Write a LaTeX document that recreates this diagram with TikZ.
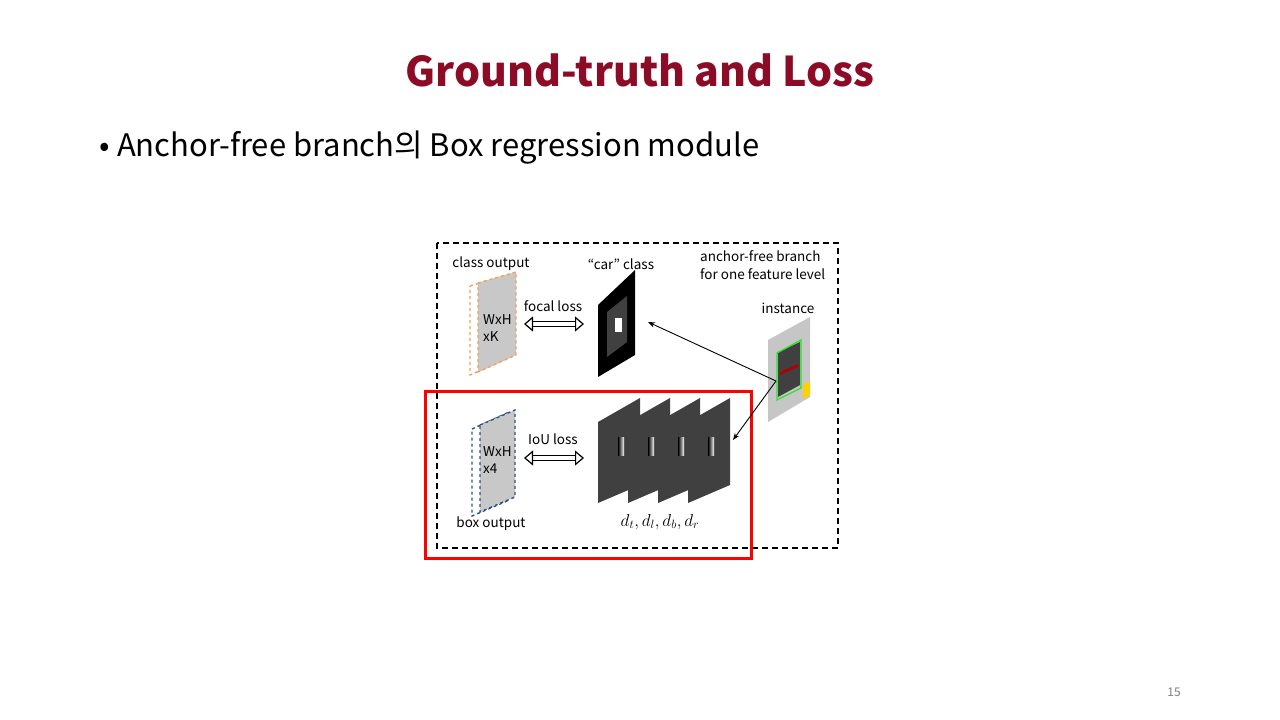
\documentclass[tikz,border=0pt]{standalone}
\usepackage{fontspec}
\setmainfont{Noto Sans CJK KR}
\usetikzlibrary{arrows.meta}
\definecolor{titlered}{RGB}{140,12,40}
\definecolor{slabgray}{RGB}{200,200,200}
\definecolor{darkpanel}{RGB}{64,64,64}
\definecolor{orangedash}{RGB}{240,160,90}
\definecolor{bluedash}{RGB}{50,80,130}
\definecolor{boxgreen}{RGB}{40,230,40}
\tikzset{
  lbl/.style={font=\fontsize{13.5}{15}\selectfont, inner sep=0pt},
  dblarrow/.style={double, double distance=4pt, line width=1.2pt, {Triangle[open,length=9pt,width=15pt]}-{Triangle[open,length=9pt,width=15pt]}},
  ptr/.style={-{Stealth[length=7pt]}, line width=0.9pt}
}
\begin{document}
\begin{tikzpicture}[x=1pt,y=-1pt]
        \useasboundingbox[fill=white] (0,0) rectangle (1280,720);
        % title and bullet
        \node[font=\fontsize{41}{44}\selectfont\bfseries, text=titlered] (title) at (640,70) {Ground-truth and Loss};
        \node[anchor=west, font=\fontsize{31}{34}\selectfont] (bullet) at (96,148) {• Anchor-free branch의 Box regression module};
        \node[font=\fontsize{12}{14}\selectfont, text=gray] (pagenum) at (1174,692) {15};
        % frames
        \draw[dashed, line width=1.3pt, dash pattern=on 6pt off 4pt] (437,243) rectangle (838,548);
        \draw[red, line width=3pt] (425,391) rectangle (751,558);
        % class output slab
        \draw[orangedash, dashed, line width=1.4pt, fill=white] (470,286) -- (508,275) -- (508,358) -- (470,375) -- cycle;
        \filldraw[fill=slabgray, draw=orangedash, dashed, line width=1.4pt] (478,283) -- (516,272) -- (516,355) -- (478,372) -- cycle;
        \node[lbl, anchor=west] (cls1) at (483,320) {WxH};
        \node[lbl, anchor=west] (cls2) at (483,337) {xK};
        \node[lbl] (clsout) at (491,264) {class output};
        % focal loss
        \node[lbl] (focal) at (553,306) {focal loss};
        \coordinate (fa) at (524,324);
        \coordinate (fb) at (584,324);
        \draw[dblarrow] (fa) -- (fb);
        % car class map
        \node[lbl] (carcls) at (621,264) {“car” class};
        \fill[black] (598,305) -- (635,270) -- (635,355) -- (598,377) -- cycle;
        \fill[darkpanel] (607,312) -- (627,296) -- (627,342) -- (607,357) -- cycle;
        \fill[white] (615,318) rectangle (622,332);
        \coordinate (carmap) at (648,322);
        % header text
        \node[lbl, anchor=west] (afb1) at (700,256) {anchor-free branch};
        \node[lbl, anchor=west] (afb2) at (700,274) {for one feature level};
        % instance
        \node[lbl] (inst) at (788,308) {instance};
        \fill[gray!45] (768,340) -- (810,317) -- (810,397) -- (768,422) -- cycle;
        \fill[black!75] (778,352) -- (800,342) -- (800,385) -- (778,397) -- cycle;
        \draw[boxgreen, line width=1.3pt] (777,353) -- (801,340) -- (801,388) -- (777,400) -- cycle;
        \fill[red!70!black] (780,372) -- (798,364) -- (798,367) -- (780,375) -- cycle;
        \fill[yellow!70!orange] (803,385) -- (810,381) -- (810,395) -- (803,399) -- cycle;
        \coordinate (instpt) at (776,381);
        % box output slab
        \draw[bluedash, dashed, line width=1.4pt, fill=white] (472,429) -- (507,413) -- (507,501) -- (472,516) -- cycle;
        \filldraw[fill=slabgray, draw=bluedash, dashed, line width=1.4pt] (480,425) -- (515,410) -- (515,497) -- (480,512) -- cycle;
        \node[lbl, anchor=west] (box1) at (483,452) {WxH};
        \node[lbl, anchor=west] (box2) at (483,469) {x4};
        \node[lbl] (boxout) at (491,524) {box output};
        % IoU loss
        \node[lbl] (iou) at (553,439) {IoU loss};
        \coordinate (ia) at (524,458);
        \coordinate (ib) at (584,458);
        \draw[dblarrow] (ia) -- (ib);
        % regression maps
        \foreach \i in {0,1,2,3} {
            \pgfmathsetmacro{\xo}{598+30*\i}
            \fill[darkpanel] (\xo,422) -- (\xo+42,398) -- (\xo+42,485) -- (\xo,503) -- cycle;
            \shade[left color=black, right color=white] (\xo+20,437) rectangle (\xo+26,455);
        }
        \coordinate (boxmap) at (733,440);
        \node[font=\fontsize{17}{19}\selectfont] (dlbl) at (660,522) {$d_t, d_l, d_b, d_r$};
        % pointers
        \draw[ptr] (instpt) -- (carmap);
        \draw[ptr] (instpt) -- (boxmap);
\end{tikzpicture}
\end{document}
